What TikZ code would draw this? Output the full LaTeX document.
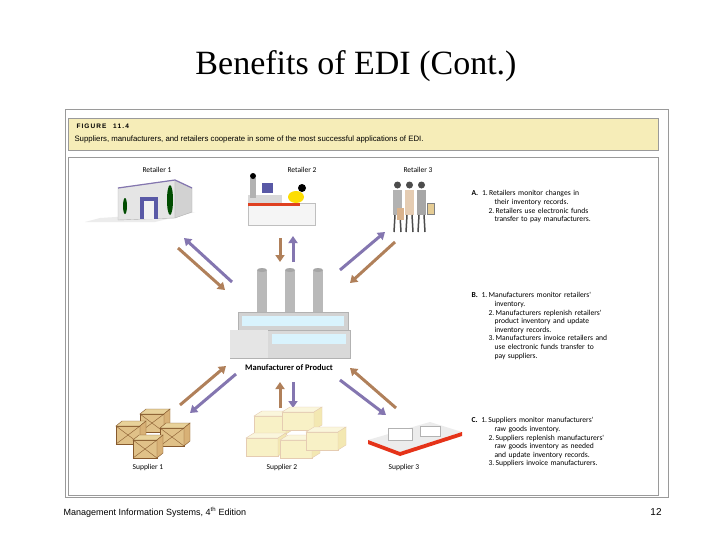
\documentclass[tikz,border=0pt]{standalone}
\usepackage{fontspec}
\setmainfont{Liberation Serif}
\newfontfamily\sfA{Liberation Sans}
\newfontfamily\sfB{Carlito}
\usetikzlibrary{arrows.meta}
\definecolor{brn}{HTML}{B0805A}
\definecolor{prp}{HTML}{8476B0}
\definecolor{ylw}{HTML}{F6EDB8}
\definecolor{frm}{HTML}{9A9A9A}
\tikzset{
 arB/.style={line width=3pt,brn,-{Triangle[length=7pt,width=9pt]}},
 arP/.style={line width=3pt,prp,-{Triangle[length=7pt,width=9pt]}},
 lab/.style={font=\sfB\fontsize{7.5}{8}\selectfont},
 note/.style={font=\sfB\fontsize{7.6}{8.6}\selectfont,align=left,anchor=north west,text width=190pt},
}
\begin{document}
\begin{tikzpicture}[x=1pt,y=-1pt]
\useasboundingbox (0,0) rectangle (728,546);
\fill[white] (0,0) rectangle (728,546);
\node[font=\fontsize{34}{36}\selectfont] (title) at (356,66) {Benefits of EDI (Cont.)};
\draw[frm,line width=0.8pt] (65,109) -- (668,109) -- (668,497) -- (65,497) -- cycle;
\draw[frm,line width=0.8pt,fill=ylw] (68,118) rectangle (658,150);
\node[anchor=west,font=\sfA\bfseries\fontsize{6.5}{7}\selectfont] (fig) at (73,126) {F\,I\,G\,U\,R\,E\quad 1\,1\,.\,4};
\node[anchor=west,font=\sfA\fontsize{7.8}{8}\selectfont] (cap) at (71,139) {Suppliers, manufacturers, and retailers cooperate in some of the most successful applications of EDI.};
\draw[frm,line width=0.8pt] (68,157) rectangle (658,495);
% labels
\node[lab] (r1) at (157,170) {Retailer 1};
\node[lab] (r2) at (302,170) {Retailer 2};
\node[lab] (r3) at (418,170) {Retailer 3};
\node[lab] (s1) at (148,467) {Supplier 1};
\node[lab] (s2) at (282,467) {Supplier 2};
\node[lab] (s3) at (404,467) {Supplier 3};
% retailer 1 building
\fill[gray!15] (85,222) -- (155,222) -- (195,212) -- (100,218) -- cycle;
\fill[gray!20,draw=gray!60] (118,188) -- (175,180) -- (175,218) -- (118,220) -- cycle;
\fill[gray!35,draw=gray!60] (175,180) -- (192,188) -- (192,212) -- (175,218) -- cycle;
\draw[prp,line width=1.2pt] (118,188) -- (175,180) -- (192,188);
\fill[blue!30!gray] (140,197) rectangle (158,219);
\fill[gray!10] (144,201) rectangle (154,219);
\fill[green!30!black] (125,206) ellipse (2 and 8);
\fill[green!30!black] (170,200) ellipse (3 and 15);
% retailer 2 counter
\fill[gray!8,draw=gray!50] (248,203) rectangle (315,225);
\fill[red!50!brown] (248,203) rectangle (300,206);
\fill[gray!30] (248,195) rectangle (282,203);
\fill[blue!30!gray] (262,183) rectangle (273,193);
\fill[gray!60] (250,178) rectangle (256,198);
\fill[black] (253,176) circle (3);
\fill[yellow!80!orange] (296,197) ellipse (8 and 6);
\fill[black] (302,188) circle (4);
% retailer 3 shoppers
\foreach \x/\c in {393/gray!60,405/brown!40,417/gray!70}{
 \fill[\c] (\x,190) rectangle (\x+9,215);
 \fill[black!70] (\x+4.5,185) circle (3.5);
 \draw[black!70,line width=1.5pt] (\x+2,215) -- (\x+1,232) (\x+7,215) -- (\x+8,232);}
\fill[brown!60] (397,208) rectangle (404,220);
\fill[brown!30!ylw,draw=gray] (427,203) rectangle (434,214);
% text A,B,C
\node[note] (A) at (468,187) {\textbf{A.}\enspace 1.\,Retailers monitor changes in\\\hspace*{23pt}their inventory records.\\\hspace*{17pt}2.\,Retailers use electronic funds\\\hspace*{23pt}transfer to pay manufacturers.};
\node[note] (B) at (468,289) {\textbf{B.}\enspace 1.\,Manufacturers monitor retailers'\\\hspace*{23pt}inventory.\\\hspace*{17pt}2.\,Manufacturers replenish retailers'\\\hspace*{23pt}product inventory and update\\\hspace*{23pt}inventory records.\\\hspace*{17pt}3.\,Manufacturers invoice retailers and\\\hspace*{23pt}use electronic funds transfer to\\\hspace*{23pt}pay suppliers.};
\node[note] (C) at (468,414) {\textbf{C.}\enspace 1.\,Suppliers monitor manufacturers'\\\hspace*{23pt}raw goods inventory.\\\hspace*{17pt}2.\,Suppliers replenish manufacturers'\\\hspace*{23pt}raw goods inventory as needed\\\hspace*{23pt}and update inventory records.\\\hspace*{17pt}3.\,Suppliers invoice manufacturers.};
% factory
\foreach \x in {262,290,318}{
 \fill[gray!55] (\x-5,270) rectangle (\x+5,312);
 \fill[gray!70] (\x,270) ellipse (5 and 2);}
\fill[gray!35,draw=gray!60] (238,312) rectangle (348,330);
\fill[cyan!15] (242,316) rectangle (344,326);
\fill[gray!30,draw=gray!60] (230,330) rectangle (350,358);
\fill[gray!20] (230,330) rectangle (268,358);
\fill[cyan!15] (272,334) rectangle (346,344);
\node[font=\sfB\bfseries\fontsize{8.5}{9}\selectfont] (mfg) at (289,368) {Manufacturer of Product};
% arrows top
\draw[arB] (178,248) -- (225,290);
\draw[arP] (232,282) -- (184,238);
\draw[arB] (280,238) -- (280,262);
\draw[arP] (293,262) -- (293,236);
\draw[arP] (340,270) -- (385,232);
\draw[arB] (395,242) -- (350,283);
% arrows bottom
\draw[arB] (180,405) -- (226,366);
\draw[arP] (236,374) -- (190,413);
\draw[arB] (280,408) -- (280,382);
\draw[arP] (293,382) -- (293,408);
\draw[arB] (396,408) -- (350,368);
\draw[arP] (340,380) -- (386,415);
% supplier 1 crates
\foreach \x/\y in {152/422,128/434,172/436,145/448}{
 \fill[brown!40!ylw,draw=brown!70!black] (\x-12,\y-8) rectangle (\x+12,\y+10);
 \fill[brown!25!ylw,draw=brown!70!black] (\x-12,\y-8) -- (\x-6,\y-13) -- (\x+18,\y-13) -- (\x+12,\y-8) -- cycle;
 \fill[brown!55!ylw,draw=brown!70!black] (\x+12,\y-8) -- (\x+18,\y-13) -- (\x+18,\y+5) -- (\x+12,\y+10) -- cycle;
 \draw[brown!70!black] (\x-12,\y-8) -- (\x+12,\y+10) (\x+12,\y-8) -- (\x-12,\y+10);}
% supplier 2 boxes
\foreach \x/\y in {270/424,298/420,262/446,296/448,322/440}{
 \fill[ylw!80!white,draw=brown!40] (\x-16,\y-8) rectangle (\x+16,\y+10);
 \fill[ylw!50!white,draw=brown!40] (\x-16,\y-8) -- (\x-8,\y-13) -- (\x+24,\y-13) -- (\x+16,\y-8) -- cycle;
 \fill[ylw!95!brown,draw=brown!40] (\x+16,\y-8) -- (\x+24,\y-13) -- (\x+24,\y+5) -- (\x+16,\y+10) -- cycle;}
% supplier 3 building
\fill[gray!15] (368,440) -- (430,422) -- (462,432) -- (400,452) -- cycle;
\fill[red!60!brown] (368,440) -- (400,452) -- (400,456) -- (368,444) -- cycle;
\fill[red!60!brown] (400,452) -- (462,432) -- (462,436) -- (400,456) -- cycle;
\fill[white,draw=gray!60] (388,428) rectangle (412,440);
\fill[white,draw=gray!60] (420,426) rectangle (440,436);
% footer
\node[anchor=west,font=\sfA\fontsize{9}{10}\selectfont] (foot) at (60,512) {Management Information Systems, 4\textsuperscript{th} Edition};
\node[font=\sfA\fontsize{10}{11}\selectfont] (pg) at (656,512) {12};
\end{tikzpicture}
\end{document}
